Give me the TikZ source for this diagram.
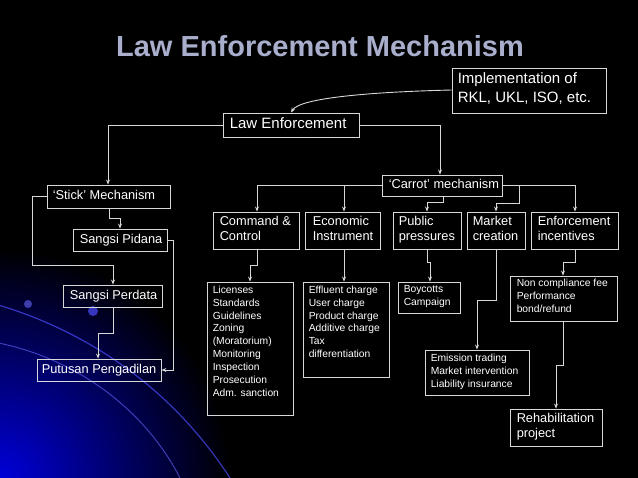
\documentclass[tikz,border=0pt]{standalone}
\usepackage{fontspec}
\setmainfont{Liberation Sans}
\usetikzlibrary{arrows.meta, fit, positioning}
\definecolor{edge}{HTML}{D8D8D8}
\definecolor{titlecol}{HTML}{A8AECB}
\tikzset{
  box/.style={draw=edge, line width=0.9pt, inner sep=0pt},
  txt/.style={anchor=north west, text=white, align=left, inner sep=0pt, font=\fontsize{12.8}{15}\selectfont},
  small/.style={txt, font=\fontsize{10.3}{12.9}\selectfont},
  arrow/.style={draw=edge, line width=0.9pt, -{Stealth[length=5pt,width=4pt]}},
  line/.style={draw=edge, line width=0.9pt}
}
% box: name, top-left, bottom-right
\newcommand{\bx}[3]{\node[box, fit={#2 #3}] (#1) {};}
\begin{document}
\begin{tikzpicture}[x=1pt, y=-1pt]
\useasboundingbox (0,0) rectangle (638,478);
\fill[black] (0,0) rectangle (638,478);
% background swirl
\begin{scope}
\clip (0,0) rectangle (638,478);
\shade[inner color=blue!85!black, outer color=black] (0,478) circle (230);
\draw[blue!70!white, line width=1.2pt, opacity=0.7] (-20,300) .. controls (60,320) and (160,370) .. (230,478);
\draw[blue!60!white, line width=1pt, opacity=0.6] (-20,340) .. controls (60,350) and (140,400) .. (180,478);
\fill[blue!70!white, opacity=0.7] (93,311) circle (5);
\fill[blue!60!white, opacity=0.6] (28,304) circle (4);
\end{scope}

% title
\node[text=titlecol, font=\fontsize{29}{32}\bfseries\selectfont] (title) at (320,46) {Law Enforcement Mechanism};

% boxes
\bx{impl}{(452,68)}{(606,113)}
\node[txt, font=\fontsize{15}{19}\selectfont] at ([shift={(6,5)}]impl.north west) {Implementation of\\RKL, UKL, ISO, etc.};
\bx{law}{(223,113)}{(359,137)}
\node[txt, font=\fontsize{15}{19}\selectfont] at ([shift={(7,5)}]law.north west) {Law Enforcement};
\bx{stick}{(47,185)}{(170,208)}
\node[txt] at ([shift={(6,5)}]stick.north west) {‘Stick’ Mechanism};
\bx{pidana}{(73,229)}{(167,251)}
\node[txt] at ([shift={(7,5)}]pidana.north west) {Sangsi Pidana};
\bx{perdata}{(63,285)}{(162,307)}
\node[txt] at ([shift={(7,5)}]perdata.north west) {Sangsi Perdata};
\bx{putusan}{(37,359)}{(161,381)}
\node[txt] at ([shift={(5,5)}]putusan.north west) {Putusan Pengadilan};
\bx{carrot}{(382,175)}{(502,196)}
\node[txt] at ([shift={(7,4)}]carrot.north west) {‘Carrot’ mechanism};
\bx{command}{(213,212)}{(299,249)}
\node[txt] at ([shift={(7,4)}]command.north west) {Command \&\\Control};
\bx{economic}{(305,212)}{(380,249)}
\node[txt] at ([shift={(8,4)}]economic.north west) {Economic\\Instrument};
\bx{public}{(393,212)}{(461,249)}
\node[txt] at ([shift={(6,4)}]public.north west) {Public\\pressures};
\bx{market}{(467,212)}{(525,249)}
\node[txt] at ([shift={(6,4)}]market.north west) {Market\\creation};
\bx{incent}{(531,212)}{(618,249)}
\node[txt] at ([shift={(7,4)}]incent.north west) {Enforcement\\incentives};
\bx{licenses}{(207,282)}{(293,415)}
\node[small] at ([shift={(6,4)}]licenses.north west) {Licenses\\Standards\\Guidelines\\Zoning\\(Moratorium)\\Monitoring\\Inspection\\Prosecution\\Adm. sanction};
\bx{effluent}{(303,282)}{(389,377)}
\node[small] at ([shift={(6,4)}]effluent.north west) {Effluent charge\\User charge\\Product charge\\Additive charge\\Tax\\differentiation};
\bx{boycott}{(398,282)}{(460,313)}
\node[small] at ([shift={(6,4)}]boycott.north west) {Boycotts\\Campaign};
\bx{emission}{(425,350)}{(529,395)}
\node[small] at ([shift={(6,4)}]emission.north west) {Emission trading\\Market intervention\\Liability insurance};
\bx{noncomp}{(510,276)}{(617,321)}
\node[small] at ([shift={(7,3)}]noncomp.north west) {Non compliance fee\\Performance\\bond/refund};
\bx{rehab}{(510,409)}{(602,446)}
\node[txt] at ([shift={(7,4)}]rehab.north west) {Rehabilitation\\project};

% connectors
\draw[arrow] (impl.west |- 0,90) .. controls (370,92) and (300,98) .. (law.north);
\draw[arrow] (law.west) -| (stick.north -| 108,0);
\draw[arrow] (law.east) -| (carrot.north -| 440,0);
\draw[arrow] (stick.south -| 109,0) -- (109,218) -| (pidana.north -| 120,0);
\draw[arrow] (stick.west) -- (32,196.5) -- (32,265) -| (perdata.north -| 113,0);
\draw[arrow] (perdata.south -| 113,0) -- (113,333) -| (putusan.north -| 98,0);
\draw[arrow] (pidana.east) -- (173,240) |- (putusan.east);
\draw[arrow] (carrot.west) -| (command.north -| 257,0);
\draw[arrow] (344,185.5) -- (economic.north -| 344,0);
\draw[arrow] (carrot.south -| 443,0) -- (443,202) -| (public.north -| 427,0);
\draw[arrow] (carrot.east) -| (incent.north -| 575,0);
\draw[arrow] (519,185.5) -- (519,203) -| (market.north -| 496,0);
\draw[arrow] (command.south -| 257,0) -- (257,265) -| (licenses.north -| 250,0);
\draw[arrow] (economic.south -| 344,0) -- (effluent.north -| 344,0);
\draw[arrow] (public.south -| 427,0) -- (427,262) -| (boycott.north -| 430,0);
\draw[arrow] (market.south -| 496,0) -- (496,300) -| (emission.north -| 477,0);
\draw[arrow] (incent.south -| 575,0) -- (575,262) -| (noncomp.north -| 563,0);
\draw[arrow] (noncomp.south -| 563,0) -- (563,365) -| (rehab.north -| 556,0);
\end{tikzpicture}
\end{document}
